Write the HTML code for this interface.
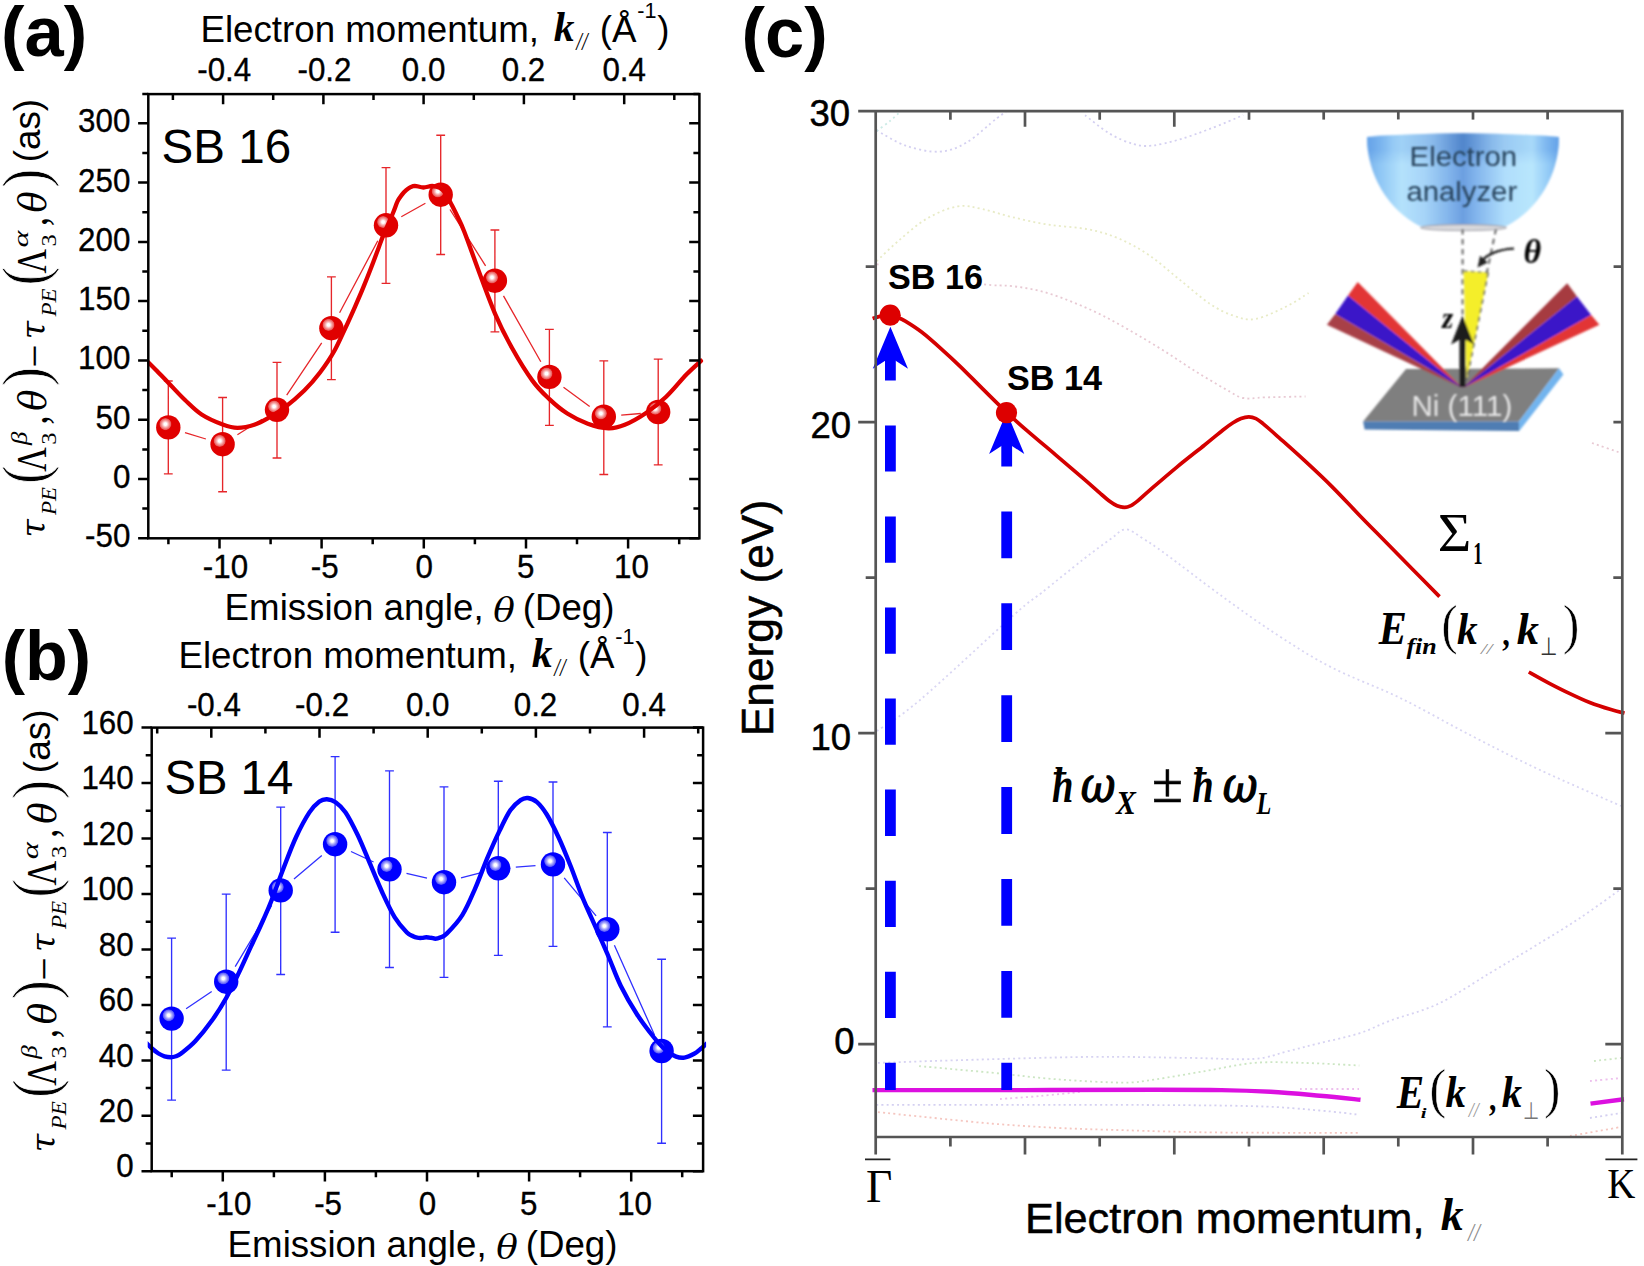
<!DOCTYPE html>
<html lang="en"><head><meta charset="utf-8"><title>Figure</title>
<style>html,body{margin:0;padding:0;background:#fff}svg{display:block}text{white-space:pre}</style>
</head><body>
<svg width="1644" height="1266" viewBox="0 0 1644 1266">
<defs>
<radialGradient id="hlR" cx="0.5" cy="0.5" r="0.5"><stop offset="0" stop-color="#fff"/><stop offset="0.22" stop-color="#fff"/><stop offset="0.5" stop-color="#f7b4b4"/><stop offset="0.9" stop-color="#ea5a5a"/><stop offset="1" stop-color="#e22020"/></radialGradient>
<radialGradient id="hlB" cx="0.5" cy="0.5" r="0.5"><stop offset="0" stop-color="#fff"/><stop offset="0.22" stop-color="#fff"/><stop offset="0.5" stop-color="#b4b4fb"/><stop offset="0.9" stop-color="#5a5afa"/><stop offset="1" stop-color="#2020ff"/></radialGradient>
</defs>
<rect width="1644" height="1266" fill="#fff"/>
<!-- panel a -->
<clipPath id="clipA"><rect x="147.1" y="94.1" width="556.1" height="444.2"/></clipPath>
<path d="M168.3 381V473.8M163.9 381h8.8M163.9 473.8h8.8M222.6 397.5V491.7M218.2 397.5h8.8M218.2 491.7h8.8M277 362.3V458M272.6 362.3h8.8M272.6 458h8.8M331.4 276.9V379.6M327 276.9h8.8M327 379.6h8.8M386 167.6V283.4M381.6 167.6h8.8M381.6 283.4h8.8M440.7 135.2V254.5M436.3 135.2h8.8M436.3 254.5h8.8M494.9 230V331.8M490.5 230h8.8M490.5 331.8h8.8M549.4 329.3V425.4M545 329.3h8.8M545 425.4h8.8M603.8 360.9V474.5M599.4 360.9h8.8M599.4 474.5h8.8M658.2 359.1V464.8M653.8 359.1h8.8M653.8 464.8h8.8" stroke="#e6262a" stroke-width="1.35" fill="none"/>
<path d="M185 432.6L205.9 439M237.4 434.8L262.2 419.2M286.7 395.2L321.7 342.8M339.6 312.7L377.8 240.8M401.3 216.8L425.4 203.2M450 209.5L485.6 265.9M503.5 295.9L540.8 361.7M563.5 387.2L589.7 406.4M621.2 415.2L640.8 413.5" stroke="#e6262a" stroke-width="1.3" fill="none"/>
<circle cx="168.3" cy="427.4" r="12.2" fill="#e00000"/>
<circle cx="165.4" cy="424.1" r="6.1" fill="url(#hlR)"/>
<circle cx="222.6" cy="444.2" r="12.2" fill="#e00000"/>
<circle cx="219.7" cy="440.9" r="6.1" fill="url(#hlR)"/>
<circle cx="277" cy="409.8" r="12.2" fill="#e00000"/>
<circle cx="274.1" cy="406.5" r="6.1" fill="url(#hlR)"/>
<circle cx="331.4" cy="328.2" r="12.2" fill="#e00000"/>
<circle cx="328.5" cy="324.9" r="6.1" fill="url(#hlR)"/>
<circle cx="386" cy="225.3" r="12.2" fill="#e00000"/>
<circle cx="383.1" cy="222" r="6.1" fill="url(#hlR)"/>
<circle cx="440.7" cy="194.7" r="12.2" fill="#e00000"/>
<circle cx="437.8" cy="191.4" r="6.1" fill="url(#hlR)"/>
<circle cx="494.9" cy="280.7" r="12.2" fill="#e00000"/>
<circle cx="492" cy="277.4" r="6.1" fill="url(#hlR)"/>
<circle cx="549.4" cy="376.9" r="12.2" fill="#e00000"/>
<circle cx="546.5" cy="373.6" r="6.1" fill="url(#hlR)"/>
<circle cx="603.8" cy="416.7" r="12.2" fill="#e00000"/>
<circle cx="600.9" cy="413.4" r="6.1" fill="url(#hlR)"/>
<circle cx="658.2" cy="412" r="12.2" fill="#e00000"/>
<circle cx="655.3" cy="408.7" r="6.1" fill="url(#hlR)"/>
<path d="M146.5 360.5C148.2 362.2 153.4 367.3 157 371C160.6 374.7 163.6 377.9 168.3 382.7C173 387.5 179.4 394.7 185 400C190.6 405.3 195.3 410.4 201.6 414.5C207.9 418.6 216.7 422.3 222.7 424.5C228.7 426.7 232.1 427.8 237.5 427.8C242.9 427.8 249.6 426.3 255 424.5C260.4 422.7 265.2 419.7 270 417C274.8 414.3 278 412.7 283.7 408.3C289.4 403.9 298.2 396.5 304.3 390.5C310.4 384.5 315.1 379 320 372.5C324.9 366 329.9 358.8 334 351.5C338.1 344.2 341.3 336.6 344.9 329C348.5 321.4 352.3 312.8 355.4 305.8C358.5 298.8 360.9 293.3 363.5 286.9C366.1 280.5 368.8 273.8 371.2 267.5C373.6 261.2 376.3 254 378.2 249C380.1 244 380 243.5 382.4 237.6C384.8 231.7 390.3 219.5 392.8 213.5C395.3 207.5 396 204.6 397.5 201.4C399 198.2 400.6 196.5 402 194.6C403.4 192.7 404.8 191.3 406.2 190.1C407.6 188.9 409.1 187.9 410.5 187.2C411.9 186.5 412.6 185.8 414.8 185.8C417 185.9 420.6 187.5 423.5 187.5C426.4 187.5 429.4 185.9 432.2 186C434.9 186.1 437.7 186.7 440 188C442.3 189.3 444.3 191.7 446 194C447.7 196.3 448.5 198.5 450.3 202.1C452.1 205.7 454.7 210.6 457 215.5C459.3 220.4 460.7 222.5 464.3 231.7C467.9 240.9 473.5 257 478.6 270.7C483.7 284.4 489.6 300.9 495.1 313.8C500.7 326.7 505.7 336.7 511.9 347.8C518.1 358.9 526.1 372.1 532.4 380.6C538.6 389.2 543.6 393.6 549.4 399.1C555.2 404.6 560.9 409.4 567.3 413.5C573.7 417.6 580.9 421.2 587.8 423.7C594.6 426.2 602.2 428.1 608.4 428.3C614.6 428.5 618.6 427.3 624.8 424.8C630.9 422.3 638.4 418.1 645.3 413.5C652.1 408.9 659 403.5 665.9 397C672.8 390.5 680.3 380.8 686.4 374.5C692.5 368.2 699.8 362 702.5 359.5" stroke="#e00000" stroke-width="4.3" fill="none" stroke-linejoin="round" clip-path="url(#clipA)"/>
<rect x="148.3" y="94.1" width="551.1" height="444.2" fill="none" stroke="#000" stroke-width="2.5"/>
<path d="M168.4 538.3v6M219.5 538.3v10.2M270.6 538.3v6M321.6 538.3v10.2M372.7 538.3v6M423.8 538.3v10.2M474.9 538.3v6M526 538.3v10.2M577 538.3v6M628.1 538.3v10.2M679.2 538.3v6M172.9 94.1v6M223.1 94.1v10.2M273.2 94.1v6M323.4 94.1v10.2M373.5 94.1v6M423.6 94.1v10.2M473.8 94.1v6M523.9 94.1v10.2M574.1 94.1v6M624.2 94.1v10.2M674.3 94.1v6M148.3 538.3h-10.2M148.3 508.6h-6M148.3 479h-10.2M148.3 449.4h-6M148.3 419.7h-10.2M148.3 390.1h-6M148.3 360.4h-10.2M148.3 330.8h-6M148.3 301.1h-10.2M148.3 271.5h-6M148.3 241.9h-10.2M148.3 212.2h-6M148.3 182.6h-10.2M148.3 152.9h-6M148.3 123.3h-10.2M148.3 94.1h-6M699.4 538.3h-10.2M699.4 508.6h-6M699.4 479h-10.2M699.4 449.4h-6M699.4 419.7h-10.2M699.4 390.1h-6M699.4 360.4h-10.2M699.4 330.8h-6M699.4 301.1h-10.2M699.4 271.5h-6M699.4 241.9h-10.2M699.4 212.2h-6M699.4 182.6h-10.2M699.4 152.9h-6M699.4 123.3h-10.2M699.4 94.1h-6" stroke="#000" stroke-width="2.5" fill="none"/>
<text transform="translate(130.4 547.2) scale(0.95 1)" font-family='"Liberation Sans", Arial, sans-serif' font-size="33" text-anchor="end" stroke="#000" stroke-width="0.35">-50</text>
<text transform="translate(130.4 487.9) scale(0.95 1)" font-family='"Liberation Sans", Arial, sans-serif' font-size="33" text-anchor="end" stroke="#000" stroke-width="0.35">0</text>
<text transform="translate(130.4 428.6) scale(0.95 1)" font-family='"Liberation Sans", Arial, sans-serif' font-size="33" text-anchor="end" stroke="#000" stroke-width="0.35">50</text>
<text transform="translate(130.4 369.3) scale(0.95 1)" font-family='"Liberation Sans", Arial, sans-serif' font-size="33" text-anchor="end" stroke="#000" stroke-width="0.35">100</text>
<text transform="translate(130.4 310) scale(0.95 1)" font-family='"Liberation Sans", Arial, sans-serif' font-size="33" text-anchor="end" stroke="#000" stroke-width="0.35">150</text>
<text transform="translate(130.4 250.8) scale(0.95 1)" font-family='"Liberation Sans", Arial, sans-serif' font-size="33" text-anchor="end" stroke="#000" stroke-width="0.35">200</text>
<text transform="translate(130.4 191.5) scale(0.95 1)" font-family='"Liberation Sans", Arial, sans-serif' font-size="33" text-anchor="end" stroke="#000" stroke-width="0.35">250</text>
<text transform="translate(130.4 132.2) scale(0.95 1)" font-family='"Liberation Sans", Arial, sans-serif' font-size="33" text-anchor="end" stroke="#000" stroke-width="0.35">300</text>
<text transform="translate(225.5 577.9) scale(0.95 1)" font-family='"Liberation Sans", Arial, sans-serif' font-size="33" text-anchor="middle" stroke="#000" stroke-width="0.35">-10</text>
<text transform="translate(324.8 577.9) scale(0.95 1)" font-family='"Liberation Sans", Arial, sans-serif' font-size="33" text-anchor="middle" stroke="#000" stroke-width="0.35">-5</text>
<text transform="translate(424.2 577.9) scale(0.95 1)" font-family='"Liberation Sans", Arial, sans-serif' font-size="33" text-anchor="middle" stroke="#000" stroke-width="0.35">0</text>
<text transform="translate(525.6 577.9) scale(0.95 1)" font-family='"Liberation Sans", Arial, sans-serif' font-size="33" text-anchor="middle" stroke="#000" stroke-width="0.35">5</text>
<text transform="translate(631.5 577.9) scale(0.95 1)" font-family='"Liberation Sans", Arial, sans-serif' font-size="33" text-anchor="middle" stroke="#000" stroke-width="0.35">10</text>
<text transform="translate(224.2 80.6) scale(0.95 1)" font-family='"Liberation Sans", Arial, sans-serif' font-size="33" text-anchor="middle" stroke="#000" stroke-width="0.35">-0.4</text>
<text transform="translate(324.5 80.6) scale(0.95 1)" font-family='"Liberation Sans", Arial, sans-serif' font-size="33" text-anchor="middle" stroke="#000" stroke-width="0.35">-0.2</text>
<text transform="translate(423.6 80.6) scale(0.95 1)" font-family='"Liberation Sans", Arial, sans-serif' font-size="33" text-anchor="middle" stroke="#000" stroke-width="0.35">0.0</text>
<text transform="translate(523.5 80.6) scale(0.95 1)" font-family='"Liberation Sans", Arial, sans-serif' font-size="33" text-anchor="middle" stroke="#000" stroke-width="0.35">0.2</text>
<text transform="translate(624.2 80.6) scale(0.95 1)" font-family='"Liberation Sans", Arial, sans-serif' font-size="33" text-anchor="middle" stroke="#000" stroke-width="0.35">0.4</text>
<text x="161.6" y="162.8" font-family='"Liberation Sans", Arial, sans-serif' font-size="47.6">SB 16</text>
<text x="1.1" y="56.4" font-family='"Liberation Sans", Arial, sans-serif' font-size="70.5" font-weight="bold">(a)</text>
<!-- panel b -->
<clipPath id="clipB"><rect x="147.7" y="727.6" width="558.4" height="443.6"/></clipPath>
<path d="M171.6 938.1V1100.1M167.2 938.1h8.8M167.2 1100.1h8.8M226.2 894.1V1070.1M221.8 894.1h8.8M221.8 1070.1h8.8M280.7 807.1V974.5M276.3 807.1h8.8M276.3 974.5h8.8M335.1 756.6V932.2M330.7 756.6h8.8M330.7 932.2h8.8M389.5 770.9V967.5M385.1 770.9h8.8M385.1 967.5h8.8M444 786.8V977.4M439.6 786.8h8.8M439.6 977.4h8.8M498.3 781.2V955.4M493.9 781.2h8.8M493.9 955.4h8.8M553 782V946.3M548.6 782h8.8M548.6 946.3h8.8M607.3 832.5V1026.8M602.9 832.5h8.8M602.9 1026.8h8.8M661.6 959.2V1143.2M657.2 959.2h8.8M657.2 1143.2h8.8" stroke="#3030ff" stroke-width="1.35" fill="none"/>
<path d="M186.1 1008.8L211.7 991.5M235.2 966.7L271.7 905.4M294 879.1L321.8 855.5M351 851.5L373.6 862M406.5 873.3L427 878.2M461 877.9L481.3 872.6M515.8 867.1L535.5 865.6M564.2 877.8L596.1 915.9M614.4 945.3L654.5 1035" stroke="#3030ff" stroke-width="1.3" fill="none"/>
<circle cx="171.6" cy="1018.6" r="12.2" fill="#0000ff"/>
<circle cx="168.7" cy="1015.3" r="6.1" fill="url(#hlB)"/>
<circle cx="226.2" cy="981.7" r="12.2" fill="#0000ff"/>
<circle cx="223.3" cy="978.4" r="6.1" fill="url(#hlB)"/>
<circle cx="280.7" cy="890.4" r="12.2" fill="#0000ff"/>
<circle cx="277.8" cy="887.1" r="6.1" fill="url(#hlB)"/>
<circle cx="335.1" cy="844.2" r="12.2" fill="#0000ff"/>
<circle cx="332.2" cy="840.9" r="6.1" fill="url(#hlB)"/>
<circle cx="389.5" cy="869.3" r="12.2" fill="#0000ff"/>
<circle cx="386.6" cy="866" r="6.1" fill="url(#hlB)"/>
<circle cx="444" cy="882.2" r="12.2" fill="#0000ff"/>
<circle cx="441.1" cy="878.9" r="6.1" fill="url(#hlB)"/>
<circle cx="498.3" cy="868.3" r="12.2" fill="#0000ff"/>
<circle cx="495.4" cy="865" r="6.1" fill="url(#hlB)"/>
<circle cx="553" cy="864.4" r="12.2" fill="#0000ff"/>
<circle cx="550.1" cy="861.1" r="6.1" fill="url(#hlB)"/>
<circle cx="607.3" cy="929.3" r="12.2" fill="#0000ff"/>
<circle cx="604.4" cy="926" r="6.1" fill="url(#hlB)"/>
<circle cx="661.6" cy="1051" r="12.2" fill="#0000ff"/>
<circle cx="658.7" cy="1047.7" r="6.1" fill="url(#hlB)"/>
<path d="M146 1042.5C147 1043.5 149.9 1046.7 152 1048.5C154.1 1050.3 156.4 1052.2 158.5 1053.5C160.6 1054.8 162.4 1055.7 164.5 1056.3C166.6 1056.9 168.9 1057.2 170.8 1057.2C172.7 1057.2 174.3 1056.8 176 1056.2C177.7 1055.6 177.9 1056 181.1 1053.5C184.3 1051 190.3 1046.6 195.4 1041.1C200.5 1035.6 206.8 1027.8 211.9 1020.6C217 1013.4 221.8 1005.9 226.2 998C230.6 990.1 234.5 981.9 238.6 973.4C242.7 964.9 246.8 955.6 250.9 946.7C255 937.8 259.8 927.7 263.2 920C266.6 912.3 268 909.4 271.4 900.7C274.8 892 279.6 878.4 283.7 867.8C287.8 857.2 291.8 846.2 296.1 837C300.4 827.8 305.5 818.3 309.4 812.4C313.3 806.5 316.5 803.8 319.4 801.6C322.3 799.4 324.2 799.1 326.9 799.2C329.6 799.3 332.5 800 335.6 802.2C338.7 804.4 341.9 806.9 345.6 812.4C349.3 817.9 353.6 826.5 357.7 835C361.8 843.5 365.9 854.1 370 863.7C374.1 873.3 378.2 883.6 382.3 892.5C386.4 901.4 390.5 910.4 394.6 917.1C398.7 923.8 403.8 929.3 406.9 932.5C410 935.7 411.3 935.3 413 936.2C414.7 937.1 415.7 937.4 417.2 937.7C418.7 938 420.5 938 422 937.9C423.5 937.8 424.7 937.2 426.2 937.2C427.7 937.2 429.5 937.5 431 937.8C432.5 938 433.9 938.7 435.4 938.7C436.9 938.7 438.1 938.5 440 937.6C441.9 936.8 443 937.4 446.7 933.6C450.4 929.9 457.6 922.6 462.3 915.1C467.1 907.6 471 898 475.2 888.4C479.4 878.8 483.4 867.2 487.5 857.6C491.6 848 495.7 838.8 499.5 830.9C503.3 823 506.8 815.4 510.3 810.3C513.8 805.2 517.7 802.1 520.6 800.1C523.5 798.1 525.1 797.7 527.8 798C530.5 798.3 533.8 799.4 537 802.1C540.2 804.9 543.2 808.7 546.8 814.5C550.4 820.3 554.4 828.5 558.4 837C562.4 845.5 566.4 855.5 570.5 865.8C574.6 876.1 578.6 888 583 898.6C587.4 909.2 592.3 919.6 596.6 929.4C600.9 939.2 604.9 948.1 608.9 957.5C612.9 966.9 616 976.2 620.7 985.7C625.4 995.2 631.6 1006 637.1 1014.5C642.6 1023 648.8 1031 653.6 1037C658.4 1043 662.1 1047.1 665.9 1050.4C669.6 1053.7 673 1055.4 676.1 1056.6C679.2 1057.8 681.3 1058.1 684.4 1057.6C687.5 1057.1 691.9 1054.9 694.6 1053.5C697.3 1052.1 698.4 1050.7 700.5 1049C702.6 1047.3 705.9 1044.2 707 1043.2" stroke="#0000ff" stroke-width="4.4" fill="none" stroke-linejoin="round" clip-path="url(#clipB)"/>
<rect x="151.7" y="727.6" width="551.4" height="443.6" fill="none" stroke="#000" stroke-width="2.5"/>
<path d="M171.7 1171.2v6M222.8 1171.2v10.2M273.9 1171.2v6M324.9 1171.2v10.2M375.9 1171.2v6M427 1171.2v10.2M478.1 1171.2v6M529.1 1171.2v10.2M580.1 1171.2v6M631.2 1171.2v10.2M682.2 1171.2v6M157.2 727.6v6M211.3 727.6v10.2M265.4 727.6v6M319.5 727.6v10.2M373.6 727.6v6M427.7 727.6v10.2M481.8 727.6v6M535.9 727.6v10.2M590 727.6v6M644.1 727.6v10.2M698.2 727.6v6M151.7 1171.3h-10.2M151.7 1143.6h-6M151.7 1115.8h-10.2M151.7 1088.1h-6M151.7 1060.4h-10.2M151.7 1032.6h-6M151.7 1004.9h-10.2M151.7 977.2h-6M151.7 949.5h-10.2M151.7 921.7h-6M151.7 894h-10.2M151.7 866.3h-6M151.7 838.5h-10.2M151.7 810.8h-6M151.7 783.1h-10.2M151.7 755.3h-6M151.7 727.6h-10.2M703.1 1171.3h-10.2M703.1 1143.6h-6M703.1 1115.8h-10.2M703.1 1088.1h-6M703.1 1060.4h-10.2M703.1 1032.6h-6M703.1 1004.9h-10.2M703.1 977.2h-6M703.1 949.5h-10.2M703.1 921.7h-6M703.1 894h-10.2M703.1 866.3h-6M703.1 838.5h-10.2M703.1 810.8h-6M703.1 783.1h-10.2M703.1 755.3h-6M703.1 727.6h-10.2" stroke="#000" stroke-width="2.5" fill="none"/>
<text transform="translate(133.7 1177.4) scale(0.95 1)" font-family='"Liberation Sans", Arial, sans-serif' font-size="33" text-anchor="end" stroke="#000" stroke-width="0.35">0</text>
<text transform="translate(133.7 1121.9) scale(0.95 1)" font-family='"Liberation Sans", Arial, sans-serif' font-size="33" text-anchor="end" stroke="#000" stroke-width="0.35">20</text>
<text transform="translate(133.7 1066.5) scale(0.95 1)" font-family='"Liberation Sans", Arial, sans-serif' font-size="33" text-anchor="end" stroke="#000" stroke-width="0.35">40</text>
<text transform="translate(133.7 1011) scale(0.95 1)" font-family='"Liberation Sans", Arial, sans-serif' font-size="33" text-anchor="end" stroke="#000" stroke-width="0.35">60</text>
<text transform="translate(133.7 955.6) scale(0.95 1)" font-family='"Liberation Sans", Arial, sans-serif' font-size="33" text-anchor="end" stroke="#000" stroke-width="0.35">80</text>
<text transform="translate(133.7 900.1) scale(0.95 1)" font-family='"Liberation Sans", Arial, sans-serif' font-size="33" text-anchor="end" stroke="#000" stroke-width="0.35">100</text>
<text transform="translate(133.7 844.6) scale(0.95 1)" font-family='"Liberation Sans", Arial, sans-serif' font-size="33" text-anchor="end" stroke="#000" stroke-width="0.35">120</text>
<text transform="translate(133.7 789.2) scale(0.95 1)" font-family='"Liberation Sans", Arial, sans-serif' font-size="33" text-anchor="end" stroke="#000" stroke-width="0.35">140</text>
<text transform="translate(133.7 733.7) scale(0.95 1)" font-family='"Liberation Sans", Arial, sans-serif' font-size="33" text-anchor="end" stroke="#000" stroke-width="0.35">160</text>
<text transform="translate(228.8 1215.2) scale(0.95 1)" font-family='"Liberation Sans", Arial, sans-serif' font-size="33" text-anchor="middle" stroke="#000" stroke-width="0.35">-10</text>
<text transform="translate(328.1 1215.2) scale(0.95 1)" font-family='"Liberation Sans", Arial, sans-serif' font-size="33" text-anchor="middle" stroke="#000" stroke-width="0.35">-5</text>
<text transform="translate(427.4 1215.2) scale(0.95 1)" font-family='"Liberation Sans", Arial, sans-serif' font-size="33" text-anchor="middle" stroke="#000" stroke-width="0.35">0</text>
<text transform="translate(528.7 1215.2) scale(0.95 1)" font-family='"Liberation Sans", Arial, sans-serif' font-size="33" text-anchor="middle" stroke="#000" stroke-width="0.35">5</text>
<text transform="translate(634.6 1215.2) scale(0.95 1)" font-family='"Liberation Sans", Arial, sans-serif' font-size="33" text-anchor="middle" stroke="#000" stroke-width="0.35">10</text>
<text transform="translate(213.9 716.3) scale(0.95 1)" font-family='"Liberation Sans", Arial, sans-serif' font-size="33" text-anchor="middle" stroke="#000" stroke-width="0.35">-0.4</text>
<text transform="translate(322.1 716.3) scale(0.95 1)" font-family='"Liberation Sans", Arial, sans-serif' font-size="33" text-anchor="middle" stroke="#000" stroke-width="0.35">-0.2</text>
<text transform="translate(427.7 716.3) scale(0.95 1)" font-family='"Liberation Sans", Arial, sans-serif' font-size="33" text-anchor="middle" stroke="#000" stroke-width="0.35">0.0</text>
<text transform="translate(535.5 716.3) scale(0.95 1)" font-family='"Liberation Sans", Arial, sans-serif' font-size="33" text-anchor="middle" stroke="#000" stroke-width="0.35">0.2</text>
<text transform="translate(644.1 716.3) scale(0.95 1)" font-family='"Liberation Sans", Arial, sans-serif' font-size="33" text-anchor="middle" stroke="#000" stroke-width="0.35">0.4</text>
<text x="164.4" y="794" font-family='"Liberation Sans", Arial, sans-serif' font-size="47.3">SB 14</text>
<text x="1.8" y="680" font-family='"Liberation Sans", Arial, sans-serif' font-size="70" font-weight="bold">(b)</text>
<text x="224.6" y="620.2" font-family='"Liberation Sans", Arial, sans-serif' font-size="36.7">Emission angle,</text>
<text font-family='"DejaVu Serif", serif' font-size="32.6" font-style="italic" transform="translate(493.2 622.1) scale(1.104 1)">θ</text>
<text x="522.7" y="620.2" font-family='"Liberation Sans", Arial, sans-serif' font-size="36.7">(Deg)</text>
<text x="227.6" y="1257" font-family='"Liberation Sans", Arial, sans-serif' font-size="36.7">Emission angle,</text>
<text font-family='"DejaVu Serif", serif' font-size="32.6" font-style="italic" transform="translate(496.2 1258.9) scale(1.104 1)">θ</text>
<text x="525.7" y="1257" font-family='"Liberation Sans", Arial, sans-serif' font-size="36.7">(Deg)</text>
<text x="200.5" y="42.4" font-family='"Liberation Sans", Arial, sans-serif' font-size="36.7">Electron momentum,</text>
<text x="553.7" y="40.8" font-family='"Liberation Serif", "Times New Roman", serif' font-size="41.5" font-weight="bold" font-style="italic">k</text>
<text font-family='"Liberation Serif", "Times New Roman", serif' font-size="25.5" font-style="italic" transform="translate(576.3 49.8) scale(0.8 1)">//</text>
<text x="599.7" y="42.4" font-family='"Liberation Sans", Arial, sans-serif' font-size="36.7">(Å</text>
<text x="637.2" y="18.4" font-family='"Liberation Sans", Arial, sans-serif' font-size="21.6">-1</text>
<text x="657.2" y="42.4" font-family='"Liberation Sans", Arial, sans-serif' font-size="36.7">)</text>
<text x="178.5" y="668.4" font-family='"Liberation Sans", Arial, sans-serif' font-size="36.7">Electron momentum,</text>
<text x="531.7" y="666.8" font-family='"Liberation Serif", "Times New Roman", serif' font-size="41.5" font-weight="bold" font-style="italic">k</text>
<text font-family='"Liberation Serif", "Times New Roman", serif' font-size="25.5" font-style="italic" transform="translate(554.3 675.8) scale(0.8 1)">//</text>
<text x="577.7" y="668.4" font-family='"Liberation Sans", Arial, sans-serif' font-size="36.7">(Å</text>
<text x="615.2" y="644.4" font-family='"Liberation Sans", Arial, sans-serif' font-size="21.6">-1</text>
<text x="635.2" y="668.4" font-family='"Liberation Sans", Arial, sans-serif' font-size="36.7">)</text>
<g transform="translate(46 316) rotate(-90) scale(1.0)">
<text font-family='"DejaVu Serif", serif' font-size="33.6" font-style="italic" transform="translate(-221.6 -0.8) scale(0.985 1)">τ</text>
<text font-family='"Liberation Serif", serif' font-size="21.7" font-style="italic" transform="translate(-198.9 9.8) scale(1.055 1)">PE</text>
<text font-family='"Liberation Serif", serif' font-size="63.2" stroke="#fff" stroke-width="0.9" transform="translate(-167.9 -0.2) scale(0.884 1)">(</text>
<text font-family='"Liberation Serif", serif' font-size="42.4" transform="translate(-155.7 -0.2) scale(0.800 1)">Λ</text>
<text font-family='"Liberation Serif", serif' font-size="22.4" font-style="italic" transform="translate(-129 -19.1) scale(1.202 1)">β</text>
<text font-family='"Liberation Serif", serif' font-size="21" transform="translate(-128.8 9.7) scale(1.165 1)">3</text>
<text font-family='"Liberation Serif", serif' font-size="46.2" transform="translate(-108.4 0.6) scale(0.769 1)">,</text>
<text font-family='"DejaVu Serif", serif' font-size="37.8" font-style="italic" transform="translate(-94.7 0) scale(0.938 1)">θ</text>
<text font-family='"Liberation Serif", serif' font-size="63.2" stroke="#fff" stroke-width="0.9" transform="translate(-70 -0.2) scale(0.907 1)">)</text>
<text font-family='"Liberation Serif", serif' font-size="43.6" transform="translate(-51.5 2.8) scale(0.941 1)">−</text>
<text font-family='"DejaVu Serif", serif' font-size="33.6" font-style="italic" transform="translate(-23.3 -0.8) scale(0.985 1)">τ</text>
<text font-family='"Liberation Serif", serif' font-size="21.7" font-style="italic" transform="translate(-0.6 9.8) scale(1.055 1)">PE</text>
<text font-family='"Liberation Serif", serif' font-size="63.2" stroke="#fff" stroke-width="0.9" transform="translate(30.4 -0.2) scale(0.884 1)">(</text>
<text font-family='"Liberation Serif", serif' font-size="42.4" transform="translate(42.6 -0.2) scale(0.800 1)">Λ</text>
<text font-family='"Liberation Serif", serif' font-size="21.9" font-style="italic" transform="translate(68.6 -18.1) scale(1.468 1)">α</text>
<text font-family='"Liberation Serif", serif' font-size="21" transform="translate(69.5 9.7) scale(1.165 1)">3</text>
<text font-family='"Liberation Serif", serif' font-size="46.2" transform="translate(89.9 0.6) scale(0.769 1)">,</text>
<text font-family='"DejaVu Serif", serif' font-size="37.8" font-style="italic" transform="translate(103.6 0) scale(0.938 1)">θ</text>
<text font-family='"Liberation Serif", serif' font-size="63.2" stroke="#fff" stroke-width="0.9" transform="translate(128.3 -0.2) scale(0.907 1)">)</text>
<text x="153.8" y="-6" font-family='"Liberation Sans", Arial, sans-serif' font-size="36.7">(as)</text>
</g>
<g transform="translate(56 928.5) rotate(-90) scale(1.01)">
<text font-family='"DejaVu Serif", serif' font-size="33.6" font-style="italic" transform="translate(-221.6 -0.8) scale(0.985 1)">τ</text>
<text font-family='"Liberation Serif", serif' font-size="21.7" font-style="italic" transform="translate(-198.9 9.8) scale(1.055 1)">PE</text>
<text font-family='"Liberation Serif", serif' font-size="63.2" stroke="#fff" stroke-width="0.9" transform="translate(-167.9 -0.2) scale(0.884 1)">(</text>
<text font-family='"Liberation Serif", serif' font-size="42.4" transform="translate(-155.7 -0.2) scale(0.800 1)">Λ</text>
<text font-family='"Liberation Serif", serif' font-size="22.4" font-style="italic" transform="translate(-129 -19.1) scale(1.202 1)">β</text>
<text font-family='"Liberation Serif", serif' font-size="21" transform="translate(-128.8 9.7) scale(1.165 1)">3</text>
<text font-family='"Liberation Serif", serif' font-size="46.2" transform="translate(-108.4 0.6) scale(0.769 1)">,</text>
<text font-family='"DejaVu Serif", serif' font-size="37.8" font-style="italic" transform="translate(-94.7 0) scale(0.938 1)">θ</text>
<text font-family='"Liberation Serif", serif' font-size="63.2" stroke="#fff" stroke-width="0.9" transform="translate(-70 -0.2) scale(0.907 1)">)</text>
<text font-family='"Liberation Serif", serif' font-size="43.6" transform="translate(-51.5 2.8) scale(0.941 1)">−</text>
<text font-family='"DejaVu Serif", serif' font-size="33.6" font-style="italic" transform="translate(-23.3 -0.8) scale(0.985 1)">τ</text>
<text font-family='"Liberation Serif", serif' font-size="21.7" font-style="italic" transform="translate(-0.6 9.8) scale(1.055 1)">PE</text>
<text font-family='"Liberation Serif", serif' font-size="63.2" stroke="#fff" stroke-width="0.9" transform="translate(30.4 -0.2) scale(0.884 1)">(</text>
<text font-family='"Liberation Serif", serif' font-size="42.4" transform="translate(42.6 -0.2) scale(0.800 1)">Λ</text>
<text font-family='"Liberation Serif", serif' font-size="21.9" font-style="italic" transform="translate(68.6 -18.1) scale(1.468 1)">α</text>
<text font-family='"Liberation Serif", serif' font-size="21" transform="translate(69.5 9.7) scale(1.165 1)">3</text>
<text font-family='"Liberation Serif", serif' font-size="46.2" transform="translate(89.9 0.6) scale(0.769 1)">,</text>
<text font-family='"DejaVu Serif", serif' font-size="37.8" font-style="italic" transform="translate(103.6 0) scale(0.938 1)">θ</text>
<text font-family='"Liberation Serif", serif' font-size="63.2" stroke="#fff" stroke-width="0.9" transform="translate(128.3 -0.2) scale(0.907 1)">)</text>
<text x="153.8" y="-6" font-family='"Liberation Sans", Arial, sans-serif' font-size="36.7">(as)</text>
</g>
<!-- panel c -->
<path d="M876.7 130.4C881.5 132.9 895.2 142.1 905.6 145.6C916 149.1 929 152.2 939.1 151.7C949.2 151.2 956.8 148.2 966.4 142.6C976 137 990.3 123.3 996.9 118.2C1003.5 113.1 1004.5 113.2 1006 112.2" stroke="#c9c4ee" stroke-width="1.8" fill="none" stroke-dasharray="2 3.2" opacity="0.8"/>
<path d="M876.7 131C878.9 129.3 886.1 124.2 890 121C893.9 117.8 898.3 113.5 900 112" stroke="#bfe6e0" stroke-width="1.8" fill="none" stroke-dasharray="2 3.2" opacity="0.8"/>
<path d="M1085.1 115.2C1089.1 118.2 1101.3 128.7 1109.4 133.5C1117.5 138.3 1126.6 142.1 1133.7 144.1C1140.8 146.1 1144.4 146.4 1152 145.6C1159.6 144.8 1169.7 142.3 1179.3 139.5C1188.9 136.7 1199.1 133 1209.8 128.9C1220.5 124.9 1237.6 117.5 1243.2 115.2" stroke="#c9c4ee" stroke-width="1.8" fill="none" stroke-dasharray="2 3.2" opacity="0.8"/>
<path d="M876.7 261.2C880.5 257.6 891.1 247 899.5 239.9C907.9 232.8 917.3 224.2 926.9 218.6C936.5 213 948.2 208 957.3 206.4C966.4 204.8 972.6 207.1 981.7 208.9C990.8 210.7 1001 214.5 1012.1 217.1C1023.2 219.7 1035.9 222.7 1048.6 224.7C1061.3 226.7 1076.4 227 1088.1 229.3C1099.8 231.6 1108.4 234.1 1118.5 238.4C1128.6 242.7 1138.8 248.3 1148.9 255.1C1159 261.9 1169.2 271.3 1179.3 279.4C1189.4 287.5 1200.7 297.7 1209.8 303.8C1218.9 309.9 1226.5 313.4 1234.1 315.9C1241.7 318.4 1246.8 320.5 1255.4 319C1264 317.5 1276.9 311.1 1285.8 306.8C1294.7 302.5 1304.8 295.4 1308.6 293.1" stroke="#e2e6b8" stroke-width="1.8" fill="none" stroke-dasharray="2 3.2" opacity="0.8"/>
<path d="M876.7 264.2C883.9 265.5 902.5 268.7 920 272C937.5 275.3 966.4 281.6 981.7 284C997.1 286.4 1002 284.8 1012.1 286.1C1022.2 287.4 1032.4 288.9 1042.5 291.6C1052.6 294.3 1062.8 298.1 1072.9 302.2C1083 306.2 1093.2 310.8 1103.3 315.9C1113.4 321 1123.6 326.9 1133.7 332.7C1143.8 338.5 1154 344.6 1164.1 350.9C1174.2 357.2 1184.3 364.4 1194.5 370.7C1204.7 377 1216.9 384.3 1225 388.9C1233.1 393.4 1236.6 396.6 1243.2 398C1249.8 399.4 1254.1 397.6 1264.5 397.4C1274.9 397.1 1298.7 396.6 1305.5 396.5" stroke="#e2bcc8" stroke-width="1.8" fill="none" stroke-dasharray="2 3.2" opacity="0.8"/>
<path d="M877 731C884.2 725.8 897.2 719.3 920 700C942.8 680.7 993.5 632.9 1013.8 615C1034 597.1 1030 602.1 1041.5 592.9C1053 583.7 1071.4 568.7 1082.9 559.7C1094.4 550.7 1103.4 544.1 1110.6 539C1117.8 533.9 1120.3 529.3 1125.8 529.3C1131.3 529.3 1137 534.9 1143.7 539C1150.4 543.1 1153 544.8 1165.9 554.2C1178.8 563.6 1202.7 582.2 1221.1 595.6C1239.5 609 1258 622.3 1276.4 634.3C1294.8 646.3 1311.1 656.9 1331.7 667.5C1352.3 678.1 1377 686.6 1400 697.9C1423 709.1 1446.7 723 1470 735C1493.3 747 1514.8 758.2 1540 770C1565.2 781.8 1607.5 800 1621 806" stroke="#c9c4ee" stroke-width="1.8" fill="none" stroke-dasharray="2 3.2" opacity="0.7"/>
<path d="M878 1062.9C891.4 1062.5 923.3 1061.2 958.6 1060.2C993.9 1059.2 1051.7 1057.3 1090 1056.9C1128.3 1056.5 1161.1 1057.6 1188.5 1057.9C1215.9 1058.2 1237.8 1060 1254.2 1058.9C1270.6 1057.8 1276 1054 1287 1051.4C1298 1048.8 1308 1046.1 1320 1043.1C1332 1040.1 1347.6 1037 1359.3 1033.3C1371 1029.6 1376.8 1025.7 1390 1020.7C1403.2 1015.8 1422 1011.6 1438.7 1003.6C1455.4 995.6 1474 982.6 1490 973C1506 963.4 1520 955.2 1535 946C1550 936.8 1565.7 927.5 1580 918C1594.3 908.5 1614.2 893.8 1621 889" stroke="#c9c4ee" stroke-width="1.8" fill="none" stroke-dasharray="2 3.2" opacity="0.75"/>
<path d="M919.1 1066.1C931.1 1067.2 968.4 1070.5 991.4 1072.7C1014.4 1074.9 1035.2 1077.7 1057.1 1079.3C1079 1080.9 1106.4 1082.6 1122.8 1082.6C1139.2 1082.6 1142 1081.2 1155.7 1079.3C1169.4 1077.4 1188.6 1073.8 1205 1071.1C1221.4 1068.4 1237.8 1064.3 1254.2 1062.9C1270.6 1061.5 1286 1062.5 1303.5 1062.9C1321 1063.3 1350 1065.1 1359.3 1065.5" stroke="#bfe0b4" stroke-width="1.8" fill="none" stroke-dasharray="2 3.2" opacity="0.8"/>
<path d="M876.4 1104.9C917.5 1104.9 1059.8 1104.7 1122.8 1104.9C1185.8 1105.1 1221.3 1105.3 1254.2 1106.2C1287.1 1107.1 1302.4 1109.1 1319.9 1110.5C1337.4 1111.9 1352.7 1114.1 1359.3 1114.8" stroke="#c9c4ee" stroke-width="1.8" fill="none" stroke-dasharray="2 3.2" opacity="0.8"/>
<path d="M878 1112.1C886 1112.9 906.8 1115.2 925.7 1117.1C944.6 1119 969.5 1121.8 991.4 1123.6C1013.3 1125.4 1035.2 1126.8 1057.1 1127.9C1079 1129 1095.4 1129.4 1122.8 1130.2C1150.2 1131 1182 1132.1 1221.4 1132.5C1260.8 1132.9 1336.3 1132.8 1359.3 1132.8" stroke="#f2b8b0" stroke-width="1.8" fill="none" stroke-dasharray="2 3.2" opacity="0.8"/>
<path d="M1000 1099C1006.7 1098.5 1026.7 1097.2 1040 1096C1053.3 1094.8 1073.3 1092.7 1080 1092" stroke="#e8b0e8" stroke-width="1.8" fill="none" stroke-dasharray="2 3.2" opacity="0.8"/>
<path d="M1300 1089C1309.8 1089 1349.2 1089 1359 1089" stroke="#e8b0e8" stroke-width="1.8" fill="none" stroke-dasharray="2 3.2" opacity="0.8"/>
<path d="M1594 1061C1598.5 1060.5 1616.5 1058.5 1621 1058" stroke="#bfe0b4" stroke-width="1.8" fill="none" stroke-dasharray="2 3.2" opacity="0.8"/>
<path d="M1590 1081C1595.2 1080.5 1615.8 1078.5 1621 1078" stroke="#e8b0e8" stroke-width="1.8" fill="none" stroke-dasharray="2 3.2" opacity="0.8"/>
<path d="M1590 1118C1595.2 1117.2 1615.8 1113.8 1621 1113" stroke="#c9c4ee" stroke-width="1.8" fill="none" stroke-dasharray="2 3.2" opacity="0.8"/>
<path d="M1592 443C1596.8 444.7 1616.2 451.3 1621 453" stroke="#e2bcc8" stroke-width="1.8" fill="none" stroke-dasharray="2 3.2" opacity="0.8"/>
<path d="M1570 1136C1578.5 1134.5 1612.5 1128.5 1621 1127" stroke="#f2b8b0" stroke-width="1.8" fill="none" stroke-dasharray="2 3.2" opacity="0.8"/>
<path d="M872.5 1090.1C897.8 1090.1 977.1 1090.1 1024.3 1090.1C1071.5 1090 1122.8 1089.8 1155.7 1089.8C1188.6 1089.8 1202.2 1089.8 1221.4 1090.1C1240.6 1090.4 1254.2 1090.9 1270.6 1091.8C1287 1092.7 1304.9 1094.4 1319.9 1095.7C1334.9 1097 1353.7 1099.1 1360.5 1099.8" stroke="#dc10e0" stroke-width="4.4" fill="none"/>
<path d="M1590.5 1103.6L1624 1099.2" stroke="#dc10e0" stroke-width="4.4" fill="none"/>
<path d="M890.4 345V380.4M890.4 971.8V1018M890.4 880.7V926.9M890.4 789.6V835.9M890.4 698.6V744.8M890.4 607.5V653.8M890.4 516.5V562.7M890.4 425.4V471.6M890.4 1062.8V1090" stroke="#0000ff" stroke-width="10.8" fill="none"/>
<path d="M890.4 326.8L908 368.8L894.9 360.3L885.9 360.3L872.8 368.8Z" fill="#0000ff"/>
<path d="M1006.7 430V466.6M1006.7 970.9V1017.7M1006.7 879V925.8M1006.7 787.1V833.9M1006.7 695.2V742M1006.7 603.3V650.1M1006.7 511.4V558.2M1006.7 1062.8V1090" stroke="#0000ff" stroke-width="10.8" fill="none"/>
<path d="M1006.7 412L1024.3 454L1011.2 445.5L1002.2 445.5L989.1 454Z" fill="#0000ff"/>
<path d="M872.6 318.6C873.8 318.2 877 317 880 316.4C883 315.8 887.8 315 890.6 315.1C893.4 315.2 894.5 316.2 897 317.2C899.5 318.2 901.1 318.6 905.3 321.1C909.4 323.6 915.9 327.6 921.9 332.2C927.9 336.8 934.8 343 941.2 348.8C947.7 354.6 953.7 360.1 960.6 366.8C967.5 373.5 975 381.3 982.7 388.9C990.4 396.5 999.2 405.4 1006.7 412.4C1014.2 419.4 1019.5 424.1 1027.6 431.1C1035.7 438.1 1046.1 446.8 1055.3 454.6C1064.5 462.4 1075.5 471.7 1082.9 478.1C1090.4 484.5 1095.5 489.3 1100 493.2C1104.5 497.1 1107.2 499.5 1110 501.6C1112.8 503.7 1114.6 504.8 1117 505.8C1119.4 506.8 1122.1 507.4 1124.4 507.4C1126.7 507.4 1128.7 506.7 1131 505.6C1133.3 504.5 1135 503.1 1138 500.6C1141 498.1 1142.8 496.2 1149.3 490.6C1155.8 485 1167.7 474.7 1176.9 467.1C1186.1 459.5 1196.9 451.2 1204.6 445C1212.3 438.8 1218.3 433.7 1223 430C1227.7 426.3 1230 424.7 1233 422.8C1236 420.9 1238.4 419.6 1241 418.6C1243.6 417.6 1246.3 416.9 1248.8 416.9C1251.3 416.9 1253.6 417.5 1256 418.6C1258.4 419.7 1259.6 420.8 1263 423.6C1266.4 426.4 1269.6 429.2 1276.4 435.3C1283.2 441.4 1294.9 451.7 1304.1 460.2C1313.3 468.7 1322.5 477.2 1331.7 486.4C1340.9 495.6 1350.2 505.7 1359.4 515.2C1368.6 524.7 1378.1 534.2 1387 543.3C1395.9 552.4 1404.2 560.8 1413 569.7C1421.8 578.6 1435.1 592.1 1439.5 596.6" stroke="#d40000" stroke-width="3.7" fill="none"/>
<path d="M1528.8 672C1532.2 673.9 1542.4 679.7 1549.3 683.3C1556.2 686.9 1563.1 690.4 1569.9 693.6C1576.8 696.9 1583.6 700.1 1590.4 702.8C1597.2 705.5 1605.2 707.9 1610.9 709.6C1616.6 711.3 1622.2 712.6 1624.5 713.2" stroke="#d40000" stroke-width="3.7" fill="none"/>
<circle cx="890.2" cy="315.2" r="10.6" fill="#dd0000"/><circle cx="1006.5" cy="412.7" r="10.6" fill="#dd0000"/>
<path d="M875.7 111.2H1622.3V1137H875.7ZM875.7 1137v17.5M950.4 111.2v8.5M950.4 1137v9.5M1025 111.2v15.5M1025 1137v17.5M1099.7 111.2v8.5M1099.7 1137v9.5M1174.3 111.2v15.5M1174.3 1137v17.5M1249 111.2v8.5M1249 1137v9.5M1323.7 111.2v15.5M1323.7 1137v17.5M1398.3 111.2v8.5M1398.3 1137v9.5M1473 111.2v15.5M1473 1137v17.5M1547.6 111.2v8.5M1547.6 1137v9.5M1622.3 1137v17.5M875.7 111.2h-17.5M875.7 266.7h-10M1622.3 266.7h-9M875.7 422.2h-17.5M1622.3 422.2h-17M875.7 577.7h-10M1622.3 577.7h-9M875.7 733.2h-17.5M1622.3 733.2h-17M875.7 888.7h-10M1622.3 888.7h-9M875.7 1044.2h-17.5M1622.3 1044.2h-17" stroke="#555" stroke-width="2.7" fill="none"/>
<text x="850" y="125.8" font-family='"Liberation Sans", Arial, sans-serif' font-size="36.5" text-anchor="end" stroke="#000" stroke-width="0.5">30</text>
<text x="851" y="438.4" font-family='"Liberation Sans", Arial, sans-serif' font-size="36.5" text-anchor="end" stroke="#000" stroke-width="0.5">20</text>
<text x="851" y="749.8" font-family='"Liberation Sans", Arial, sans-serif' font-size="36.5" text-anchor="end" stroke="#000" stroke-width="0.5">10</text>
<text x="854.6" y="1054" font-family='"Liberation Sans", Arial, sans-serif' font-size="36.5" text-anchor="end" stroke="#000" stroke-width="0.5">0</text>
<text transform="translate(772.6 736.2) rotate(-90)" font-family='"Liberation Sans", Arial, sans-serif' font-size="44.3" stroke="#000" stroke-width="0.5">Energy (eV)</text>
<text x="1025" y="1233" font-family='"Liberation Sans", Arial, sans-serif' font-size="43.3" stroke="#000" stroke-width="0.5">Electron momentum,</text>
<text font-family='"Liberation Serif", serif' font-size="45.6" font-style="italic" font-weight="bold" transform="translate(1440.7 1230.3) scale(0.999 1)">k</text>
<text font-family='"Liberation Serif", serif' font-size="24.2" font-style="italic" fill="#8a8a8a" transform="translate(1468.1 1240.6) scale(0.896 1)">//</text>
<text x="741.5" y="56.8" font-family='"Liberation Sans", Arial, sans-serif' font-size="70.5" font-weight="bold">(c)</text>
<text x="866" y="1202" font-family='"Liberation Serif", "Times New Roman", serif' font-size="45.5">Γ</text>
<path d="M865 1159.4H890.4M1605.4 1159.4H1637.4" stroke="#222" stroke-width="1.8"/>
<text font-family='"Liberation Serif", serif' font-size="42.1" transform="translate(1607.2 1197.5) scale(0.925 1)">K</text>
<rect x="879" y="262.5" width="104" height="30" fill="#fff"/>
<text x="888" y="289.4" font-family='"Liberation Sans", Arial, sans-serif' font-size="34.2" font-weight="bold">SB 16</text>
<text x="1007" y="390.4" font-family='"Liberation Sans", Arial, sans-serif' font-size="34.2" font-weight="bold">SB 14</text>
<text font-family='"Liberation Serif", serif' font-size="55.9" transform="translate(1437.8 550.8) scale(1.031 1)">Σ</text>
<text font-family='"Liberation Serif", serif' font-size="32.4" font-weight="bold" transform="translate(1473.3 564) scale(0.575 1)">1</text>
<text font-family='"Liberation Serif", serif' font-size="46" font-style="italic" font-weight="bold" transform="translate(1378.8 644.3) scale(0.915 1)">E</text>
<text font-family='"Liberation Serif", serif' font-size="23.9" font-style="italic" font-weight="bold" transform="translate(1406.4 653.8) scale(1.088 1)">fin</text>
<text font-family='"Liberation Serif", serif' font-size="55.7" stroke="#fff" stroke-width="0.5" transform="translate(1441.5 643.3) scale(0.867 1)">(</text>
<text font-family='"Liberation Serif", serif' font-size="44.5" font-style="italic" font-weight="bold" transform="translate(1456.9 644.1) scale(0.928 1)">k</text>
<text font-family='"Liberation Serif", serif' font-size="14.9" font-style="italic" fill="#8a8a8a" transform="translate(1481 653.9) scale(1.374 1)">//</text>
<text font-family='"Liberation Serif", serif' font-size="35.1" font-weight="bold" transform="translate(1502.2 645.4) scale(0.862 1)">,</text>
<text font-family='"Liberation Serif", serif' font-size="44.5" font-style="italic" font-weight="bold" transform="translate(1516.7 644.1) scale(0.997 1)">k</text>
<text font-family='"Liberation Serif", serif' font-size="25.1" fill="#333" transform="translate(1539.5 655.3) scale(0.802 1)">⊥</text>
<text font-family='"Liberation Serif", serif' font-size="55.7" stroke="#fff" stroke-width="0.5" transform="translate(1563.1 643.3) scale(0.877 1)">)</text>
<text font-family='"Liberation Serif", serif' font-size="45.8" font-style="italic" font-weight="bold" transform="translate(1396.7 1108.4) scale(0.897 1)">E</text>
<text font-family='"Liberation Serif", serif' font-size="15.5" font-style="italic" font-weight="bold" transform="translate(1420.7 1117.9) scale(1.339 1)">i</text>
<text font-family='"Liberation Serif", serif' font-size="55.1" stroke="#fff" stroke-width="0.5" transform="translate(1429.6 1107.1) scale(0.905 1)">(</text>
<text font-family='"Liberation Serif", serif' font-size="44.3" font-style="italic" font-weight="bold" transform="translate(1445.6 1107.4) scale(0.917 1)">k</text>
<text font-family='"Liberation Serif", serif' font-size="21.8" font-style="italic" fill="#9a9a9a" transform="translate(1468.7 1117) scale(0.833 1)">//</text>
<text font-family='"Liberation Serif", serif' font-size="35.4" font-weight="bold" transform="translate(1489.1 1109.9) scale(0.827 1)">,</text>
<text font-family='"Liberation Serif", serif' font-size="44.3" font-style="italic" font-weight="bold" transform="translate(1501.8 1107.4) scale(0.917 1)">k</text>
<text font-family='"Liberation Serif", serif' font-size="24.3" fill="#777" transform="translate(1523.1 1118.9) scale(0.778 1)">⊥</text>
<text font-family='"Liberation Serif", serif' font-size="55.1" stroke="#fff" stroke-width="0.5" transform="translate(1544.2 1107.1) scale(0.873 1)">)</text>
<text font-family='"Liberation Serif", serif' font-size="51.2" font-style="italic" font-weight="bold" transform="translate(1051.9 801.9) scale(0.753 1)">ħ</text>
<text font-family='"DejaVu Serif", serif' font-size="49.9" font-style="italic" stroke="#000" stroke-width="1.3" transform="translate(1080.7 802.4) scale(0.854 1)">ω</text>
<text font-family='"Liberation Serif", serif' font-size="32.7" font-style="italic" font-weight="bold" transform="translate(1115.9 814.4) scale(0.910 1)">X</text>
<text font-family='"Liberation Serif", serif' font-size="57" stroke="#000" stroke-width="0.6" transform="translate(1152 802.2) scale(0.989 1)">±</text>
<text font-family='"Liberation Serif", serif' font-size="51.2" font-style="italic" font-weight="bold" transform="translate(1192.3 801.9) scale(0.753 1)">ħ</text>
<text font-family='"DejaVu Serif", serif' font-size="49.9" font-style="italic" stroke="#000" stroke-width="1.3" transform="translate(1222.8 802.4) scale(0.857 1)">ω</text>
<text font-family='"Liberation Serif", serif' font-size="32.1" font-style="italic" font-weight="bold" transform="translate(1256.4 814.4) scale(0.758 1)">L</text>
<!-- inset -->
<rect x="1309" y="119.6" width="304.4" height="321" fill="#fff"/>
<defs>
<linearGradient id="bowl" x1="0" x2="1" y1="0" y2="0"><stop offset="0" stop-color="#79b2ec"/><stop offset="0.06" stop-color="#8cc4f4"/><stop offset="0.18" stop-color="#b4e2fc"/><stop offset="0.30" stop-color="#a6d4f8"/><stop offset="0.42" stop-color="#84b6ec"/><stop offset="0.50" stop-color="#6c9fe0"/><stop offset="0.58" stop-color="#86b8ee"/><stop offset="0.72" stop-color="#b0defc"/><stop offset="0.86" stop-color="#b8e6fd"/><stop offset="0.95" stop-color="#90c8f6"/><stop offset="1" stop-color="#78b2ec"/></linearGradient>
<linearGradient id="rimH" x1="0" x2="1" y1="0" y2="0"><stop offset="0" stop-color="#5f9de6" stop-opacity="0.95"/><stop offset="0.16" stop-color="#6aa6ea" stop-opacity="0.25"/><stop offset="0.36" stop-color="#6a9bd8" stop-opacity="0.35"/><stop offset="0.5" stop-color="#4a7fc6" stop-opacity="0.8"/><stop offset="0.64" stop-color="#6a9bd8" stop-opacity="0.35"/><stop offset="0.84" stop-color="#6aa6ea" stop-opacity="0.2"/><stop offset="1" stop-color="#5f9de6" stop-opacity="0.95"/></linearGradient>
<linearGradient id="rimV" x1="0" x2="0" y1="0" y2="1"><stop offset="0" stop-color="#fff"/><stop offset="0.6" stop-color="#fff"/><stop offset="1" stop-color="#000"/></linearGradient>
<mask id="rimM" maskUnits="userSpaceOnUse" x="1360" y="128" width="206" height="40"><rect x="1360" y="128" width="206" height="36" fill="url(#rimV)"/></mask>
<clipPath id="bowlC"><path d="M1367 137Q1463 129.5 1559 137A96 100 0 0 1 1506 226.3H1420A96 100 0 0 1 1367 137Z"/></clipPath>
<filter id="soft" x="-5%" y="-5%" width="110%" height="110%"><feGaussianBlur stdDeviation="0.9"/></filter>
</defs>
<g filter="url(#soft)">
<path d="M1367 137Q1463 129.5 1559 137A96 100 0 0 1 1506 226.3H1420A96 100 0 0 1 1367 137Z" fill="url(#bowl)"/>
<g clip-path="url(#bowlC)"><rect x="1360" y="128" width="206" height="36" fill="url(#rimH)" mask="url(#rimM)"/></g>
<ellipse cx="1463.5" cy="227.6" rx="43" ry="3" fill="#d8d8dc" stroke="#9a9aa2" stroke-width="1"/>
<path d="M1462.6 229V384" stroke="#666" stroke-width="2" stroke-dasharray="5.5 4.5" fill="none"/>
<path d="M1496 229L1463.5 384" stroke="#666" stroke-width="2" stroke-dasharray="5.5 4.5" fill="none"/>
<path d="M1406 369.1L1559.1 368.3L1518.9 421.5L1363.1 421.5Z" fill="#7f7f7f"/>
<path d="M1363.1 421.5L1518.9 421.5L1519.2 431L1364.6 429.6Z" fill="#4f7db3"/>
<path d="M1559.1 368.3L1563.4 374.6L1519.2 431L1518.9 421.5Z" fill="#72b4ee"/>
<path d="M1463.6 271L1488.2 272.6L1466.8 380Z" fill="#f4ee2c"/>
<path d="M1463.6 271L1488.2 272.6" stroke="#666" stroke-width="1.3" stroke-dasharray="4 3"/>
<path d="M1488.2 272.6L1466.8 380" stroke="#555" stroke-width="1.5" stroke-dasharray="5 4" fill="none"/>
<path d="M1462.5 388.2L1357.7 281.9L1348.0 295.6Z" fill="#e23636"/>
<path d="M1462.5 388.2L1348.0 295.6L1335.2 314.0Z" fill="#3a12c8"/>
<path d="M1462.5 388.2L1335.2 314.0L1326.9 324.8Z" fill="#a84046"/>
<path d="M1462.5 388.2L1567.2 283.2L1577.0 296.5Z" fill="#a63a40"/>
<path d="M1462.5 388.2L1577.0 296.5L1591.2 315.0Z" fill="#3a12c8"/>
<path d="M1462.5 388.2L1591.2 315.0L1599.4 324.8Z" fill="#e23636"/>
<path d="M1462.5 387V336" stroke="#1a1a1a" stroke-width="6"/>
<path d="M1462.5 315.5L1474 344.5L1462.5 338L1451 344.5Z" fill="#1a1a1a"/>
<path d="M1514 248.6C1500 249 1487 254 1481 262" stroke="#222" stroke-width="2.4" fill="none"/>
<path d="M1477.6 267.5L1480 255.8L1487.8 262.6Z" fill="#222"/>
</g>
<text transform="translate(1409.6 166.4) scale(1.04 1)" font-family='"Liberation Sans", Arial, sans-serif' font-size="28.2" fill="#27435c" filter="url(#soft)">Electron</text>
<text transform="translate(1406.4 201.4) scale(1.04 1)" font-family='"Liberation Sans", Arial, sans-serif' font-size="28.2" fill="#27435c" filter="url(#soft)">analyzer</text>
<text transform="translate(1411.4 416.2) scale(1.035 1)" font-family='"Liberation Sans", Arial, sans-serif' font-size="28.6" fill="#e6e6e6" filter="url(#soft)">Ni (111)</text>
<text x="1523.5" y="262.6" font-family='"Liberation Serif", "Times New Roman", serif' font-size="34" font-weight="bold" font-style="italic" filter="url(#soft)">θ</text>
<text x="1442" y="327.6" font-family='"Liberation Serif", "Times New Roman", serif' font-size="29" font-weight="bold" font-style="italic" filter="url(#soft)">z</text>
</svg>
</body></html>
